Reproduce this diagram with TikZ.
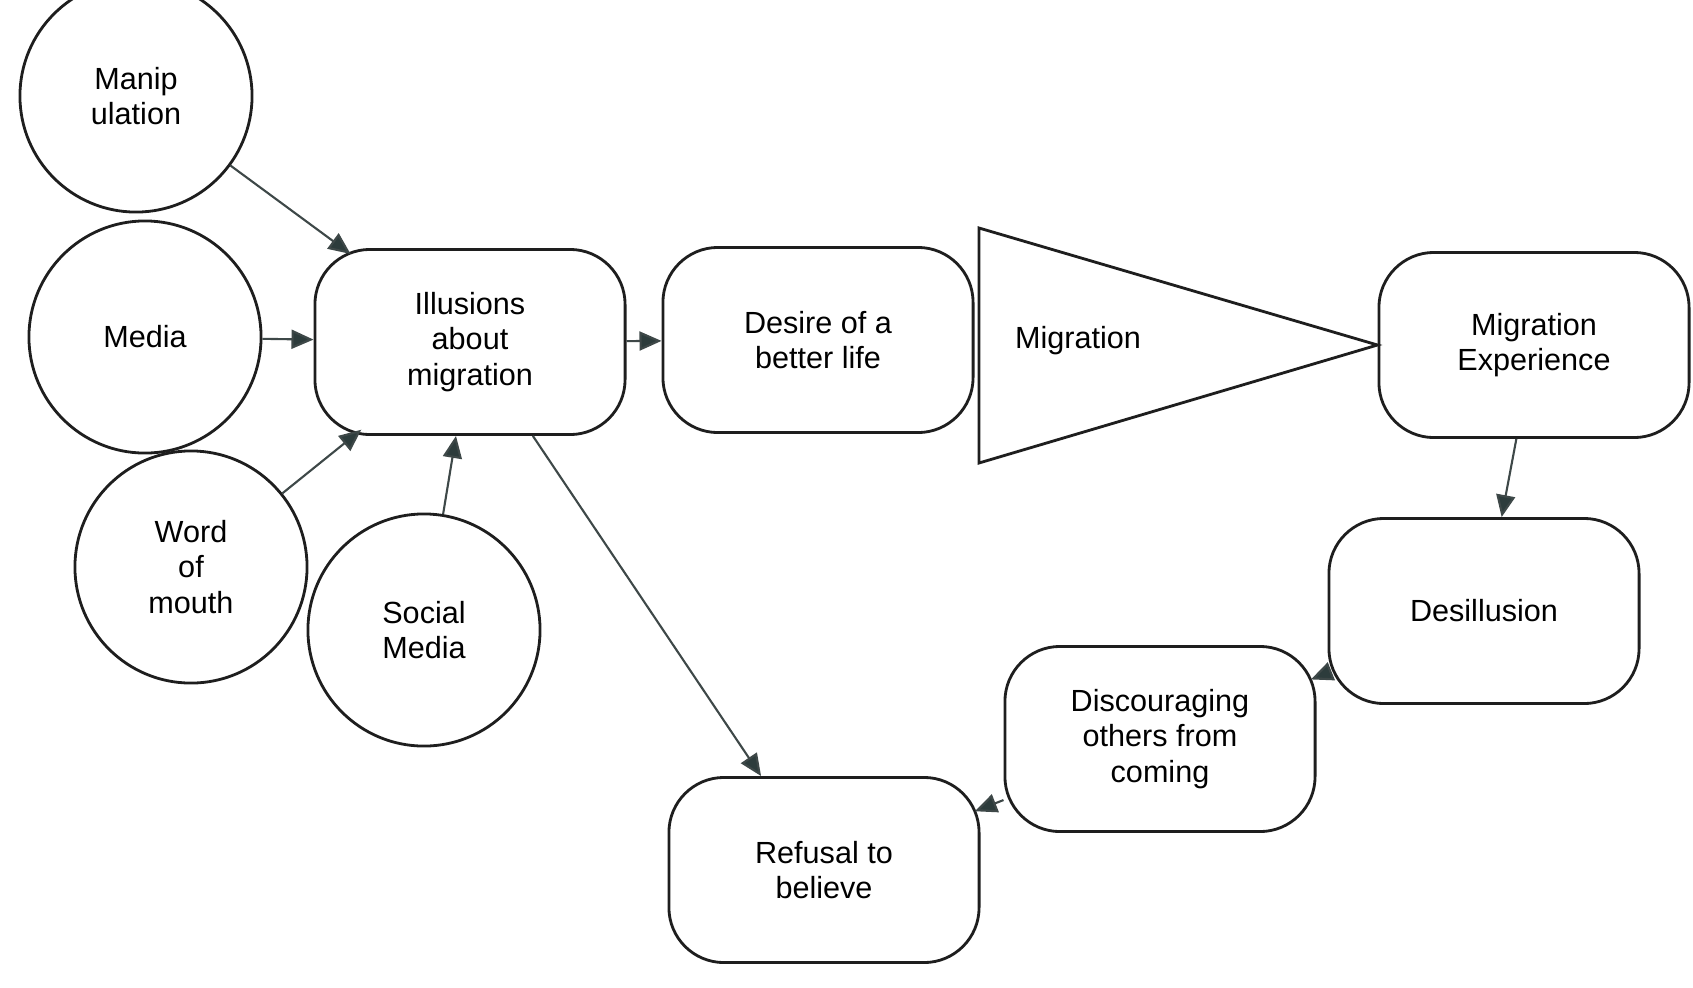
\documentclass[tikz,border=0pt]{standalone}
\usepackage{fontspec}
\setmainfont{Liberation Sans}
\usetikzlibrary{arrows.meta}
\definecolor{linkgray}{RGB}{62,72,72}
\definecolor{tipgray}{RGB}{45,60,60}
\definecolor{outline}{RGB}{30,30,30}

\begin{document}
\begin{tikzpicture}[x=0.01cm, y=-0.01cm,
  bubble/.style={circle, draw=outline, line width=0.8pt, minimum size=2.32cm,
    inner sep=1pt, align=center, font=\fontsize{8.7}{10}\selectfont},
  stage/.style={rectangle, rounded corners=0.55cm, draw=outline, line width=0.8pt,
    minimum width=3.1cm, minimum height=1.85cm, align=center,
    font=\fontsize{8.7}{10}\selectfont},
  link/.style={draw=linkgray, line width=0.6pt,
    -{Triangle[length=0.22cm, width=0.19cm, fill=tipgray]}},
  corner/.style={shorten >=-0.1cm}]

  \clip (0,0) rectangle (1693,987);

  % -- Sources of the illusions --
  \node[bubble] (manip)  at (136,96)  {Manip\\ulation};
  \node[bubble] (media)  at (145,337) {Media};
  \node[bubble] (word)   at (191,567) {Word\\of\\mouth};
  \node[bubble] (social) at (424,630) {Social\\Media};

  % -- Main chain --
  \node[stage] (illusions) at (470,342)  {Illusions\\about\\migration};
  \node[stage] (desire)    at (818,340)  {Desire of a\\better life};
  \node[stage] (migexp)    at (1534,345) {Migration\\Experience};
  \node[stage] (desill)    at (1484,611) {Desillusion};
  \node[stage] (discour)   at (1160,739) {Discouraging\\others from\\coming};
  \node[stage] (refusal)   at (824,870)  {Refusal to\\believe};

  % -- Migration triangle --
  \draw[draw=outline, line width=0.8pt] (979,228) -- (migexp.west) -- (979,463) -- cycle;
  \node[font=\fontsize{8.7}{10}\selectfont] (migration) at (1078,341) {Migration};

  % -- Connectors --
  \draw[link, corner] (manip) -- (illusions);
  \draw[link] (media) -- (illusions);
  \draw[link, corner] (word) -- (illusions);
  \draw[link] (social) -- ([xshift=-0.14cm]illusions.south);
  \draw[link] (illusions) -- (desire);
  \draw[link] (illusions) -- (refusal);
  \draw[link] (migexp) -- (desill);
  \draw[link, shorten >=-0.06cm] (desill) -- (discour);
  \draw[link, shorten >=-0.06cm] (discour) -- (refusal);

\end{tikzpicture}
\end{document}
